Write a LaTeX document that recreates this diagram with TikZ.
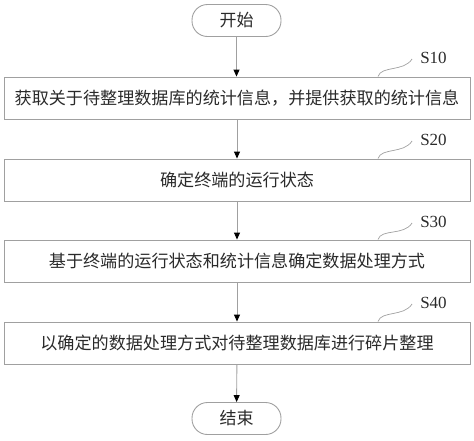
\documentclass[tikz,border=0pt]{standalone}
\usepackage{fontspec}
\setmainfont{Liberation Serif}
\newfontfamily\cjk{Noto Sans CJK SC}
\usetikzlibrary{arrows.meta}
\definecolor{linegray}{HTML}{A0A0A0}
\definecolor{txt}{HTML}{2A2A2A}
\tikzset{
  stepbox/.style={draw=linegray, line width=0.9pt, minimum width=466pt, minimum height=42pt, inner sep=0pt, font=\cjk\fontsize{17.1}{19}\selectfont, text=txt},
  term/.style={draw=linegray, line width=0.9pt, rounded corners=15.5pt, minimum width=89pt, minimum height=32pt, inner sep=0pt, font=\cjk\fontsize{17}{19}\selectfont, text=txt},
  flow/.style={draw=linegray, line width=0.9pt, -{Triangle[color=black,length=7pt,width=6pt]}},
  slabel/.style={font=\fontsize{17}{19}\selectfont, text=txt, inner sep=0pt},
  squig/.style={draw=linegray, line width=0.7pt}
}
\begin{document}
\begin{tikzpicture}[x=1pt,y=1pt]
\useasboundingbox (0,0) rectangle (474,-440);
\node[term] (start) at (236.5,-20.5) {开始};
\node[stepbox] (b1) at (237,-98) {获取关于待整理数据库的统计信息，并提供获取的统计信息};
\node[stepbox] (b2) at (237,-180) {确定终端的运行状态};
\node[stepbox] (b3) at (237,-261) {基于终端的运行状态和统计信息确定数据处理方式};
\node[stepbox] (b4) at (237,-343) {以确定的数据处理方式对待整理数据库进行碎片整理};
\node[term] (end) at (236.5,-418.5) {结束};

\draw[flow] (start) -- (start |- b1.north);
\draw[flow] (b1) -- (b1 |- b2.north);
\draw[flow] (b2) -- (b2 |- b3.north);
\draw[flow] (b3) -- (b3 |- b4.north);
\draw[flow] (b4) -- (end);

\foreach \b/\s/\y in {b1/S10/-58, b2/S20/-140, b3/S30/-222, b4/S40/-303}{
  \node[slabel] (\s) at (433.5,\y) {\s};
  \coordinate (\s a) at (\b.north west -| 378,0);
  \coordinate (\s b) at ([xshift=-8pt,yshift=5pt]\s.south west);
  \draw[squig] (\s a) .. controls ++(3,11) and ++(-8,-13) .. (\s b);
}
\end{tikzpicture}
\end{document}
